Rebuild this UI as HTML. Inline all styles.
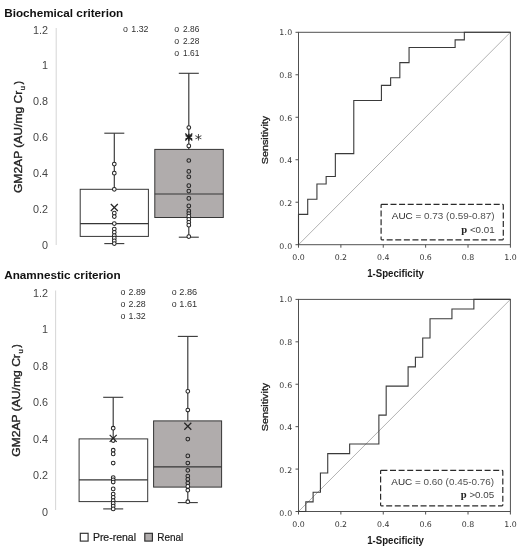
<!DOCTYPE html>
<html lang="en">
<head>
<meta charset="utf-8">
<title>GM2AP box plots and ROC curves</title>
<style>
html,body{margin:0;padding:0;background:#fff;}
body{width:522px;height:550px;overflow:hidden;}
svg{display:block;}
</style>
</head>
<body>
<svg width="522" height="550" viewBox="0 0 522 550">
<rect x="0" y="0" width="522" height="550" fill="#fff"/>
<text x="4.2" y="17" font-family='"Liberation Sans", sans-serif' font-size="11.4" font-weight="bold" fill="#111" text-anchor="start" textLength="119" lengthAdjust="spacingAndGlyphs">Biochemical criterion</text>
<line x1="56.2" y1="28" x2="56.2" y2="245" stroke="#d9d9d9" stroke-width="1.1"/>
<text x="48" y="33.8" font-family='"Liberation Sans", sans-serif' font-size="10.8" font-weight="normal" fill="#454545" text-anchor="end" textLength="15" lengthAdjust="spacingAndGlyphs">1.2</text>
<text x="48" y="69.4" font-family='"Liberation Sans", sans-serif' font-size="10.8" font-weight="normal" fill="#454545" text-anchor="end" textLength="6" lengthAdjust="spacingAndGlyphs">1</text>
<text x="48" y="105.3" font-family='"Liberation Sans", sans-serif' font-size="10.8" font-weight="normal" fill="#454545" text-anchor="end" textLength="15" lengthAdjust="spacingAndGlyphs">0.8</text>
<text x="48" y="141.2" font-family='"Liberation Sans", sans-serif' font-size="10.8" font-weight="normal" fill="#454545" text-anchor="end" textLength="15" lengthAdjust="spacingAndGlyphs">0.6</text>
<text x="48" y="176.8" font-family='"Liberation Sans", sans-serif' font-size="10.8" font-weight="normal" fill="#454545" text-anchor="end" textLength="15" lengthAdjust="spacingAndGlyphs">0.4</text>
<text x="48" y="213.3" font-family='"Liberation Sans", sans-serif' font-size="10.8" font-weight="normal" fill="#454545" text-anchor="end" textLength="15" lengthAdjust="spacingAndGlyphs">0.2</text>
<text x="48" y="249.4" font-family='"Liberation Sans", sans-serif' font-size="10.8" font-weight="normal" fill="#454545" text-anchor="end" textLength="6" lengthAdjust="spacingAndGlyphs">0</text>
<g transform="translate(21.8 193) rotate(-90)" font-family='"Liberation Sans", sans-serif' fill="#222" stroke="#222" stroke-width="0.35">
<text x="0" y="0" font-size="10.6" textLength="102.2" lengthAdjust="spacingAndGlyphs">GM2AP (AU/mg Cr</text>
<text x="102.8" y="2.9" font-size="7.6" stroke-width="0.25">u</text>
<text x="108.60000000000001" y="0" font-size="10.6">)</text>
</g>
<line x1="114.3" y1="133.2" x2="114.3" y2="243.6" stroke="#363636" stroke-width="1.15"/>
<line x1="104.3" y1="133.2" x2="124.3" y2="133.2" stroke="#363636" stroke-width="1.1"/>
<line x1="104.3" y1="243.6" x2="124.3" y2="243.6" stroke="#363636" stroke-width="1.1"/>
<rect x="80.2" y="189.3" width="68.2" height="47.1" fill="#fff" stroke="#363636" stroke-width="1"/>
<line x1="80.2" y1="223.6" x2="148.4" y2="223.6" stroke="#363636" stroke-width="1.2"/>
<circle cx="114.3" cy="164.1" r="1.85" fill="#fff" stroke="#262626" stroke-width="1.05"/>
<circle cx="114.3" cy="173.2" r="1.85" fill="#fff" stroke="#262626" stroke-width="1.05"/>
<circle cx="114.3" cy="189.3" r="1.85" fill="#fff" stroke="#262626" stroke-width="1.05"/>
<circle cx="114.3" cy="213.2" r="1.85" fill="#fff" stroke="#262626" stroke-width="1.05"/>
<circle cx="114.3" cy="216.6" r="1.85" fill="#fff" stroke="#262626" stroke-width="1.05"/>
<circle cx="114.3" cy="223.6" r="1.85" fill="#fff" stroke="#262626" stroke-width="1.05"/>
<circle cx="114.3" cy="229.1" r="1.85" fill="#fff" stroke="#262626" stroke-width="1.05"/>
<circle cx="114.3" cy="232.3" r="1.85" fill="#fff" stroke="#262626" stroke-width="1.05"/>
<circle cx="114.3" cy="235.5" r="1.85" fill="#fff" stroke="#262626" stroke-width="1.05"/>
<circle cx="114.3" cy="238.2" r="1.85" fill="#fff" stroke="#262626" stroke-width="1.05"/>
<circle cx="114.3" cy="240.9" r="1.85" fill="#fff" stroke="#262626" stroke-width="1.05"/>
<circle cx="114.3" cy="243.6" r="1.85" fill="#fff" stroke="#262626" stroke-width="1.05"/>
<line x1="110.8" y1="204" x2="117.8" y2="211" stroke="#262626" stroke-width="1.25"/>
<line x1="110.8" y1="211" x2="117.8" y2="204" stroke="#262626" stroke-width="1.25"/>
<line x1="188.8" y1="73.3" x2="188.8" y2="237.2" stroke="#363636" stroke-width="1.15"/>
<line x1="178.8" y1="73.3" x2="198.8" y2="73.3" stroke="#363636" stroke-width="1.1"/>
<line x1="178.8" y1="237.2" x2="198.8" y2="237.2" stroke="#363636" stroke-width="1.1"/>
<rect x="154.8" y="149.4" width="68.5" height="68.1" fill="#b0acac" stroke="#363636" stroke-width="1"/>
<line x1="154.8" y1="194" x2="223.3" y2="194" stroke="#363636" stroke-width="1.2"/>
<circle cx="188.8" cy="127.5" r="1.85" fill="#fff" stroke="#262626" stroke-width="1.05"/>
<circle cx="188.8" cy="145.9" r="1.85" fill="#fff" stroke="#262626" stroke-width="1.05"/>
<circle cx="188.8" cy="160.5" r="1.85" fill="#b0acac" stroke="#262626" stroke-width="1.05"/>
<circle cx="188.8" cy="171.4" r="1.85" fill="#b0acac" stroke="#262626" stroke-width="1.05"/>
<circle cx="188.8" cy="176.8" r="1.85" fill="#b0acac" stroke="#262626" stroke-width="1.05"/>
<circle cx="188.8" cy="185.7" r="1.85" fill="#b0acac" stroke="#262626" stroke-width="1.05"/>
<circle cx="188.8" cy="191.1" r="1.85" fill="#b0acac" stroke="#262626" stroke-width="1.05"/>
<circle cx="188.8" cy="198.4" r="1.85" fill="#b0acac" stroke="#262626" stroke-width="1.05"/>
<circle cx="188.8" cy="205.9" r="1.85" fill="#b0acac" stroke="#262626" stroke-width="1.05"/>
<circle cx="188.8" cy="210.9" r="1.85" fill="#b0acac" stroke="#262626" stroke-width="1.05"/>
<circle cx="188.8" cy="213.6" r="1.85" fill="#b0acac" stroke="#262626" stroke-width="1.05"/>
<circle cx="188.8" cy="216.4" r="1.85" fill="#fff" stroke="#262626" stroke-width="1.05"/>
<circle cx="188.8" cy="219.3" r="1.85" fill="#fff" stroke="#262626" stroke-width="1.05"/>
<circle cx="188.8" cy="222.3" r="1.85" fill="#fff" stroke="#262626" stroke-width="1.05"/>
<circle cx="188.8" cy="225.2" r="1.85" fill="#fff" stroke="#262626" stroke-width="1.05"/>
<circle cx="188.8" cy="236.6" r="1.85" fill="#fff" stroke="#262626" stroke-width="1.05"/>
<line x1="185.3" y1="133.5" x2="192.3" y2="140.5" stroke="#262626" stroke-width="1.25"/>
<line x1="185.3" y1="140.5" x2="192.3" y2="133.5" stroke="#262626" stroke-width="1.25"/>
<text x="125.4" y="32.3" font-family='"Liberation Sans", sans-serif' font-size="8.8" font-weight="normal" fill="#303030" text-anchor="middle">o</text>
<text x="131.3" y="32.3" font-family='"Liberation Sans", sans-serif' font-size="8.7" font-weight="normal" fill="#303030" text-anchor="start" textLength="17.2" lengthAdjust="spacingAndGlyphs">1.32</text>
<text x="176.7" y="31.8" font-family='"Liberation Sans", sans-serif' font-size="8.8" font-weight="normal" fill="#303030" text-anchor="middle">o</text>
<text x="183" y="31.8" font-family='"Liberation Sans", sans-serif' font-size="8.7" font-weight="normal" fill="#303030" text-anchor="start" textLength="16.3" lengthAdjust="spacingAndGlyphs">2.86</text>
<text x="176.7" y="43.5" font-family='"Liberation Sans", sans-serif' font-size="8.8" font-weight="normal" fill="#303030" text-anchor="middle">o</text>
<text x="183" y="43.5" font-family='"Liberation Sans", sans-serif' font-size="8.7" font-weight="normal" fill="#303030" text-anchor="start" textLength="16.3" lengthAdjust="spacingAndGlyphs">2.28</text>
<text x="176.7" y="55.8" font-family='"Liberation Sans", sans-serif' font-size="8.8" font-weight="normal" fill="#303030" text-anchor="middle">o</text>
<text x="183" y="55.8" font-family='"Liberation Sans", sans-serif' font-size="8.7" font-weight="normal" fill="#303030" text-anchor="start" textLength="16.3" lengthAdjust="spacingAndGlyphs">1.61</text>
<text x="198.4" y="143.6" font-family='"DejaVu Sans", "Liberation Sans", sans-serif' font-size="14.5" font-weight="normal" fill="#2a2a2a" text-anchor="middle">*</text>
<text x="188.8" y="143.6" font-family='"DejaVu Sans", "Liberation Sans", sans-serif' font-size="14.5" font-weight="normal" fill="#1a1a1a" text-anchor="middle" stroke="#1a1a1a" stroke-width="0.5">*</text>
<text x="4.2" y="279.4" font-family='"Liberation Sans", sans-serif' font-size="11.4" font-weight="bold" fill="#111" text-anchor="start" textLength="116.5" lengthAdjust="spacingAndGlyphs">Anamnestic criterion</text>
<line x1="55.6" y1="290.5" x2="55.6" y2="510" stroke="#d9d9d9" stroke-width="1.1"/>
<text x="48" y="296.7" font-family='"Liberation Sans", sans-serif' font-size="10.8" font-weight="normal" fill="#454545" text-anchor="end" textLength="15" lengthAdjust="spacingAndGlyphs">1.2</text>
<text x="48" y="333.1" font-family='"Liberation Sans", sans-serif' font-size="10.8" font-weight="normal" fill="#454545" text-anchor="end" textLength="6" lengthAdjust="spacingAndGlyphs">1</text>
<text x="48" y="369.7" font-family='"Liberation Sans", sans-serif' font-size="10.8" font-weight="normal" fill="#454545" text-anchor="end" textLength="15" lengthAdjust="spacingAndGlyphs">0.8</text>
<text x="48" y="406.3" font-family='"Liberation Sans", sans-serif' font-size="10.8" font-weight="normal" fill="#454545" text-anchor="end" textLength="15" lengthAdjust="spacingAndGlyphs">0.6</text>
<text x="48" y="442.9" font-family='"Liberation Sans", sans-serif' font-size="10.8" font-weight="normal" fill="#454545" text-anchor="end" textLength="15" lengthAdjust="spacingAndGlyphs">0.4</text>
<text x="48" y="479.3" font-family='"Liberation Sans", sans-serif' font-size="10.8" font-weight="normal" fill="#454545" text-anchor="end" textLength="15" lengthAdjust="spacingAndGlyphs">0.2</text>
<text x="48" y="515.6" font-family='"Liberation Sans", sans-serif' font-size="10.8" font-weight="normal" fill="#454545" text-anchor="end" textLength="6" lengthAdjust="spacingAndGlyphs">0</text>
<g transform="translate(19.8 456.7) rotate(-90)" font-family='"Liberation Sans", sans-serif' fill="#222" stroke="#222" stroke-width="0.35">
<text x="0" y="0" font-size="10.6" textLength="102.6" lengthAdjust="spacingAndGlyphs">GM2AP (AU/mg Cr</text>
<text x="103.19999999999999" y="2.9" font-size="7.6" stroke-width="0.25">u</text>
<text x="109.0" y="0" font-size="10.6">)</text>
</g>
<line x1="113.2" y1="397.3" x2="113.2" y2="508.9" stroke="#363636" stroke-width="1.15"/>
<line x1="103.2" y1="397.3" x2="123.2" y2="397.3" stroke="#363636" stroke-width="1.1"/>
<line x1="103.2" y1="508.9" x2="123.2" y2="508.9" stroke="#363636" stroke-width="1.1"/>
<rect x="79.1" y="438.9" width="68.6" height="62.7" fill="#fff" stroke="#363636" stroke-width="1"/>
<line x1="79.1" y1="479.8" x2="147.7" y2="479.8" stroke="#363636" stroke-width="1.2"/>
<circle cx="113.2" cy="428.2" r="1.85" fill="#fff" stroke="#262626" stroke-width="1.05"/>
<circle cx="113.2" cy="440.5" r="1.85" fill="#fff" stroke="#262626" stroke-width="1.05"/>
<circle cx="113.2" cy="450.2" r="1.85" fill="#fff" stroke="#262626" stroke-width="1.05"/>
<circle cx="113.2" cy="453.9" r="1.85" fill="#fff" stroke="#262626" stroke-width="1.05"/>
<circle cx="113.2" cy="463" r="1.85" fill="#fff" stroke="#262626" stroke-width="1.05"/>
<circle cx="113.2" cy="477.5" r="1.85" fill="#fff" stroke="#262626" stroke-width="1.05"/>
<circle cx="113.2" cy="479.8" r="1.85" fill="#fff" stroke="#262626" stroke-width="1.05"/>
<circle cx="113.2" cy="482" r="1.85" fill="#fff" stroke="#262626" stroke-width="1.05"/>
<circle cx="113.2" cy="488.9" r="1.85" fill="#fff" stroke="#262626" stroke-width="1.05"/>
<circle cx="113.2" cy="494.1" r="1.85" fill="#fff" stroke="#262626" stroke-width="1.05"/>
<circle cx="113.2" cy="497.3" r="1.85" fill="#fff" stroke="#262626" stroke-width="1.05"/>
<circle cx="113.2" cy="500.5" r="1.85" fill="#fff" stroke="#262626" stroke-width="1.05"/>
<circle cx="113.2" cy="503.4" r="1.85" fill="#fff" stroke="#262626" stroke-width="1.05"/>
<circle cx="113.2" cy="506.1" r="1.85" fill="#fff" stroke="#262626" stroke-width="1.05"/>
<circle cx="113.2" cy="508.9" r="1.85" fill="#fff" stroke="#262626" stroke-width="1.05"/>
<line x1="109.7" y1="434.9" x2="116.7" y2="441.9" stroke="#262626" stroke-width="1.25"/>
<line x1="109.7" y1="441.9" x2="116.7" y2="434.9" stroke="#262626" stroke-width="1.25"/>
<line x1="187.8" y1="336.4" x2="187.8" y2="502.6" stroke="#363636" stroke-width="1.15"/>
<line x1="177.8" y1="336.4" x2="197.8" y2="336.4" stroke="#363636" stroke-width="1.1"/>
<line x1="177.8" y1="502.6" x2="197.8" y2="502.6" stroke="#363636" stroke-width="1.1"/>
<rect x="153.6" y="420.9" width="68" height="66.2" fill="#b0acac" stroke="#363636" stroke-width="1"/>
<line x1="153.6" y1="466.8" x2="221.6" y2="466.8" stroke="#363636" stroke-width="1.2"/>
<circle cx="187.8" cy="391.3" r="1.85" fill="#fff" stroke="#262626" stroke-width="1.05"/>
<circle cx="187.8" cy="410" r="1.85" fill="#fff" stroke="#262626" stroke-width="1.05"/>
<circle cx="187.8" cy="439.1" r="1.85" fill="#b0acac" stroke="#262626" stroke-width="1.05"/>
<circle cx="187.8" cy="455.9" r="1.85" fill="#b0acac" stroke="#262626" stroke-width="1.05"/>
<circle cx="187.8" cy="463" r="1.85" fill="#b0acac" stroke="#262626" stroke-width="1.05"/>
<circle cx="187.8" cy="470.3" r="1.85" fill="#b0acac" stroke="#262626" stroke-width="1.05"/>
<circle cx="187.8" cy="476" r="1.85" fill="#b0acac" stroke="#262626" stroke-width="1.05"/>
<circle cx="187.8" cy="479.3" r="1.85" fill="#b0acac" stroke="#262626" stroke-width="1.05"/>
<circle cx="187.8" cy="483.1" r="1.85" fill="#b0acac" stroke="#262626" stroke-width="1.05"/>
<circle cx="187.8" cy="486.4" r="1.85" fill="#fff" stroke="#262626" stroke-width="1.05"/>
<circle cx="187.8" cy="490.2" r="1.85" fill="#fff" stroke="#262626" stroke-width="1.05"/>
<circle cx="187.8" cy="501.7" r="1.85" fill="#fff" stroke="#262626" stroke-width="1.05"/>
<line x1="184.3" y1="422.8" x2="191.3" y2="429.8" stroke="#262626" stroke-width="1.25"/>
<line x1="184.3" y1="429.8" x2="191.3" y2="422.8" stroke="#262626" stroke-width="1.25"/>
<text x="123" y="295" font-family='"Liberation Sans", sans-serif' font-size="8.8" font-weight="normal" fill="#303030" text-anchor="middle">o</text>
<text x="128.6" y="295" font-family='"Liberation Sans", sans-serif' font-size="8.7" font-weight="normal" fill="#303030" text-anchor="start" textLength="17.2" lengthAdjust="spacingAndGlyphs">2.89</text>
<text x="123" y="307" font-family='"Liberation Sans", sans-serif' font-size="8.8" font-weight="normal" fill="#303030" text-anchor="middle">o</text>
<text x="128.6" y="307" font-family='"Liberation Sans", sans-serif' font-size="8.7" font-weight="normal" fill="#303030" text-anchor="start" textLength="17.2" lengthAdjust="spacingAndGlyphs">2.28</text>
<text x="123" y="319.3" font-family='"Liberation Sans", sans-serif' font-size="8.8" font-weight="normal" fill="#303030" text-anchor="middle">o</text>
<text x="128.6" y="319.3" font-family='"Liberation Sans", sans-serif' font-size="8.7" font-weight="normal" fill="#303030" text-anchor="start" textLength="17.2" lengthAdjust="spacingAndGlyphs">1.32</text>
<text x="174.2" y="295" font-family='"Liberation Sans", sans-serif' font-size="8.8" font-weight="normal" fill="#303030" text-anchor="middle">o</text>
<text x="179.3" y="295" font-family='"Liberation Sans", sans-serif' font-size="8.7" font-weight="normal" fill="#303030" text-anchor="start" textLength="17.9" lengthAdjust="spacingAndGlyphs">2.86</text>
<text x="174.2" y="307" font-family='"Liberation Sans", sans-serif' font-size="8.8" font-weight="normal" fill="#303030" text-anchor="middle">o</text>
<text x="179.3" y="307" font-family='"Liberation Sans", sans-serif' font-size="8.7" font-weight="normal" fill="#303030" text-anchor="start" textLength="17.9" lengthAdjust="spacingAndGlyphs">1.61</text>
<rect x="80.3" y="533.3" width="7.8" height="7.8" fill="#fff" stroke="#2e2e2e" stroke-width="1.15"/>
<text x="92.9" y="541.2" font-family='"Liberation Sans", sans-serif' font-size="10.8" font-weight="normal" fill="#1a1a1a" text-anchor="start" textLength="43.1" lengthAdjust="spacingAndGlyphs" stroke="#1a1a1a" stroke-width="0.2">Pre-renal</text>
<rect x="144.8" y="533.3" width="7.6" height="7.8" fill="#b0acac" stroke="#2e2e2e" stroke-width="1.15"/>
<text x="157.2" y="541.2" font-family='"Liberation Sans", sans-serif' font-size="10.8" font-weight="normal" fill="#1a1a1a" text-anchor="start" textLength="26.1" lengthAdjust="spacingAndGlyphs" stroke="#1a1a1a" stroke-width="0.2">Renal</text>
<line x1="298.5" y1="244.7" x2="510.4" y2="32.3" stroke="#b2b2b2" stroke-width="1"/>
<rect x="298.5" y="32.3" width="211.9" height="212.4" fill="none" stroke="#505050" stroke-width="1"/>
<line x1="295.5" y1="244.7" x2="298.5" y2="244.7" stroke="#505050" stroke-width="1"/>
<text x="292.1" y="248.8" font-family='"DejaVu Sans", "Liberation Sans", sans-serif' font-size="7.8" font-weight="normal" fill="#333" text-anchor="end" textLength="12.8" lengthAdjust="spacing">0.0</text>
<line x1="298.5" y1="244.7" x2="298.5" y2="247.7" stroke="#505050" stroke-width="1"/>
<text x="298.5" y="260.2" font-family='"DejaVu Sans", "Liberation Sans", sans-serif' font-size="7.8" font-weight="normal" fill="#333" text-anchor="middle" textLength="12.4" lengthAdjust="spacing">0.0</text>
<line x1="295.5" y1="202.22" x2="298.5" y2="202.22" stroke="#505050" stroke-width="1"/>
<text x="292.1" y="206.06" font-family='"DejaVu Sans", "Liberation Sans", sans-serif' font-size="7.8" font-weight="normal" fill="#333" text-anchor="end" textLength="12.8" lengthAdjust="spacing">0.2</text>
<line x1="340.88" y1="244.7" x2="340.88" y2="247.7" stroke="#505050" stroke-width="1"/>
<text x="340.88" y="260.2" font-family='"DejaVu Sans", "Liberation Sans", sans-serif' font-size="7.8" font-weight="normal" fill="#333" text-anchor="middle" textLength="12.4" lengthAdjust="spacing">0.2</text>
<line x1="295.5" y1="159.74" x2="298.5" y2="159.74" stroke="#505050" stroke-width="1"/>
<text x="292.1" y="163.32" font-family='"DejaVu Sans", "Liberation Sans", sans-serif' font-size="7.8" font-weight="normal" fill="#333" text-anchor="end" textLength="12.8" lengthAdjust="spacing">0.4</text>
<line x1="383.26" y1="244.7" x2="383.26" y2="247.7" stroke="#505050" stroke-width="1"/>
<text x="383.26" y="260.2" font-family='"DejaVu Sans", "Liberation Sans", sans-serif' font-size="7.8" font-weight="normal" fill="#333" text-anchor="middle" textLength="12.4" lengthAdjust="spacing">0.4</text>
<line x1="295.5" y1="117.26" x2="298.5" y2="117.26" stroke="#505050" stroke-width="1"/>
<text x="292.1" y="120.58" font-family='"DejaVu Sans", "Liberation Sans", sans-serif' font-size="7.8" font-weight="normal" fill="#333" text-anchor="end" textLength="12.8" lengthAdjust="spacing">0.6</text>
<line x1="425.64" y1="244.7" x2="425.64" y2="247.7" stroke="#505050" stroke-width="1"/>
<text x="425.64" y="260.2" font-family='"DejaVu Sans", "Liberation Sans", sans-serif' font-size="7.8" font-weight="normal" fill="#333" text-anchor="middle" textLength="12.4" lengthAdjust="spacing">0.6</text>
<line x1="295.5" y1="74.78" x2="298.5" y2="74.78" stroke="#505050" stroke-width="1"/>
<text x="292.1" y="77.84" font-family='"DejaVu Sans", "Liberation Sans", sans-serif' font-size="7.8" font-weight="normal" fill="#333" text-anchor="end" textLength="12.8" lengthAdjust="spacing">0.8</text>
<line x1="468.02" y1="244.7" x2="468.02" y2="247.7" stroke="#505050" stroke-width="1"/>
<text x="468.02" y="260.2" font-family='"DejaVu Sans", "Liberation Sans", sans-serif' font-size="7.8" font-weight="normal" fill="#333" text-anchor="middle" textLength="12.4" lengthAdjust="spacing">0.8</text>
<line x1="295.5" y1="32.3" x2="298.5" y2="32.3" stroke="#505050" stroke-width="1"/>
<text x="292.1" y="35.1" font-family='"DejaVu Sans", "Liberation Sans", sans-serif' font-size="7.8" font-weight="normal" fill="#333" text-anchor="end" textLength="12.8" lengthAdjust="spacing">1.0</text>
<line x1="510.4" y1="244.7" x2="510.4" y2="247.7" stroke="#505050" stroke-width="1"/>
<text x="510.4" y="260.2" font-family='"DejaVu Sans", "Liberation Sans", sans-serif' font-size="7.8" font-weight="normal" fill="#333" text-anchor="middle" textLength="12.4" lengthAdjust="spacing">1.0</text>
<path d="M298.5 244.7 L298.5 214.36 L307.71 214.36 L307.71 199.19 L316.93 199.19 L316.93 184.01 L326.14 184.01 L326.14 176.43 L335.35 176.43 L335.35 153.67 L353.78 153.67 L353.78 100.57 L381.42 100.57 L381.42 85.4 L390.63 85.4 L390.63 77.81 L399.84 77.81 L399.84 62.64 L409.06 62.64 L409.06 47.47 L455.12 47.47 L455.12 39.89 L464.33 39.89 L464.33 32.3 L510.4 32.3" fill="none" stroke="#3a3a3a" stroke-width="1.1" stroke-linejoin="miter"/>
<text x="367.2" y="276.9" font-family='"Liberation Sans", sans-serif' font-size="10.8" font-weight="bold" fill="#1a1a1a" text-anchor="start" textLength="56.8" lengthAdjust="spacingAndGlyphs">1-Specificity</text>
<g transform="translate(268.2 164.2) rotate(-90)">
<text x="0" y="0" font-family='"Liberation Sans", sans-serif' font-size="9.6" fill="#222" stroke="#222" stroke-width="0.3" textLength="48.4" lengthAdjust="spacingAndGlyphs">Sensitivity</text>
</g>
<rect x="381.1" y="204.4" width="122.2" height="35.5" rx="0.8" fill="#fff" stroke="#2a2a2a" stroke-width="1.2" stroke-dasharray="6 2.6"/>
<text x="391.8" y="219.2" font-family='"Liberation Sans", sans-serif' font-size="9.6" font-weight="normal" fill="#505050" text-anchor="start" textLength="102.8" lengthAdjust="spacingAndGlyphs"><tspan fill="#2a2a2a">AUC =</tspan> 0.73 (0.59-0.87)</text>
<text x="494.7" y="232.8" font-size="9.8" fill="#444" text-anchor="end" font-family='"Liberation Sans", sans-serif'><tspan font-family='"Liberation Serif", serif' font-weight="bold" fill="#222" font-size="10.6">p</tspan> &lt;0.01</text>
<line x1="298.5" y1="511.5" x2="510.4" y2="299.4" stroke="#b2b2b2" stroke-width="1"/>
<rect x="298.5" y="299.4" width="211.9" height="212.1" fill="none" stroke="#505050" stroke-width="1"/>
<line x1="295.5" y1="511.5" x2="298.5" y2="511.5" stroke="#505050" stroke-width="1"/>
<text x="292.1" y="515.6" font-family='"DejaVu Sans", "Liberation Sans", sans-serif' font-size="7.8" font-weight="normal" fill="#333" text-anchor="end" textLength="12.8" lengthAdjust="spacing">0.0</text>
<line x1="298.5" y1="511.5" x2="298.5" y2="514.5" stroke="#505050" stroke-width="1"/>
<text x="298.5" y="527" font-family='"DejaVu Sans", "Liberation Sans", sans-serif' font-size="7.8" font-weight="normal" fill="#333" text-anchor="middle" textLength="12.4" lengthAdjust="spacing">0.0</text>
<line x1="295.5" y1="469.08" x2="298.5" y2="469.08" stroke="#505050" stroke-width="1"/>
<text x="292.1" y="472.92" font-family='"DejaVu Sans", "Liberation Sans", sans-serif' font-size="7.8" font-weight="normal" fill="#333" text-anchor="end" textLength="12.8" lengthAdjust="spacing">0.2</text>
<line x1="340.88" y1="511.5" x2="340.88" y2="514.5" stroke="#505050" stroke-width="1"/>
<text x="340.88" y="527" font-family='"DejaVu Sans", "Liberation Sans", sans-serif' font-size="7.8" font-weight="normal" fill="#333" text-anchor="middle" textLength="12.4" lengthAdjust="spacing">0.2</text>
<line x1="295.5" y1="426.66" x2="298.5" y2="426.66" stroke="#505050" stroke-width="1"/>
<text x="292.1" y="430.24" font-family='"DejaVu Sans", "Liberation Sans", sans-serif' font-size="7.8" font-weight="normal" fill="#333" text-anchor="end" textLength="12.8" lengthAdjust="spacing">0.4</text>
<line x1="383.26" y1="511.5" x2="383.26" y2="514.5" stroke="#505050" stroke-width="1"/>
<text x="383.26" y="527" font-family='"DejaVu Sans", "Liberation Sans", sans-serif' font-size="7.8" font-weight="normal" fill="#333" text-anchor="middle" textLength="12.4" lengthAdjust="spacing">0.4</text>
<line x1="295.5" y1="384.24" x2="298.5" y2="384.24" stroke="#505050" stroke-width="1"/>
<text x="292.1" y="387.56" font-family='"DejaVu Sans", "Liberation Sans", sans-serif' font-size="7.8" font-weight="normal" fill="#333" text-anchor="end" textLength="12.8" lengthAdjust="spacing">0.6</text>
<line x1="425.64" y1="511.5" x2="425.64" y2="514.5" stroke="#505050" stroke-width="1"/>
<text x="425.64" y="527" font-family='"DejaVu Sans", "Liberation Sans", sans-serif' font-size="7.8" font-weight="normal" fill="#333" text-anchor="middle" textLength="12.4" lengthAdjust="spacing">0.6</text>
<line x1="295.5" y1="341.82" x2="298.5" y2="341.82" stroke="#505050" stroke-width="1"/>
<text x="292.1" y="344.88" font-family='"DejaVu Sans", "Liberation Sans", sans-serif' font-size="7.8" font-weight="normal" fill="#333" text-anchor="end" textLength="12.8" lengthAdjust="spacing">0.8</text>
<line x1="468.02" y1="511.5" x2="468.02" y2="514.5" stroke="#505050" stroke-width="1"/>
<text x="468.02" y="527" font-family='"DejaVu Sans", "Liberation Sans", sans-serif' font-size="7.8" font-weight="normal" fill="#333" text-anchor="middle" textLength="12.4" lengthAdjust="spacing">0.8</text>
<line x1="295.5" y1="299.4" x2="298.5" y2="299.4" stroke="#505050" stroke-width="1"/>
<text x="292.1" y="302.2" font-family='"DejaVu Sans", "Liberation Sans", sans-serif' font-size="7.8" font-weight="normal" fill="#333" text-anchor="end" textLength="12.8" lengthAdjust="spacing">1.0</text>
<line x1="510.4" y1="511.5" x2="510.4" y2="514.5" stroke="#505050" stroke-width="1"/>
<text x="510.4" y="527" font-family='"DejaVu Sans", "Liberation Sans", sans-serif' font-size="7.8" font-weight="normal" fill="#333" text-anchor="middle" textLength="12.4" lengthAdjust="spacing">1.0</text>
<path d="M298.5 511.5 L305.81 511.5 L305.81 501.86 L313.11 501.86 L313.11 492.22 L320.42 492.22 L320.42 472.94 L327.73 472.94 L327.73 453.65 L349.65 453.65 L349.65 444.01 L378.88 444.01 L378.88 415.09 L386.18 415.09 L386.18 386.17 L408.1 386.17 L408.1 366.89 L415.41 366.89 L415.41 357.25 L422.72 357.25 L422.72 337.96 L430.02 337.96 L430.02 318.68 L451.94 318.68 L451.94 309.04 L473.87 309.04 L473.87 299.4 L510.4 299.4" fill="none" stroke="#3a3a3a" stroke-width="1.1" stroke-linejoin="miter"/>
<text x="367.2" y="543.7" font-family='"Liberation Sans", sans-serif' font-size="10.8" font-weight="bold" fill="#1a1a1a" text-anchor="start" textLength="56.8" lengthAdjust="spacingAndGlyphs">1-Specificity</text>
<g transform="translate(268.2 431.15) rotate(-90)">
<text x="0" y="0" font-family='"Liberation Sans", sans-serif' font-size="9.6" fill="#222" stroke="#222" stroke-width="0.3" textLength="48.4" lengthAdjust="spacingAndGlyphs">Sensitivity</text>
</g>
<rect x="380.6" y="470.4" width="122.2" height="35.5" rx="0.8" fill="#fff" stroke="#2a2a2a" stroke-width="1.2" stroke-dasharray="6 2.6"/>
<text x="391.3" y="484.7" font-family='"Liberation Sans", sans-serif' font-size="9.6" font-weight="normal" fill="#505050" text-anchor="start" textLength="102.8" lengthAdjust="spacingAndGlyphs"><tspan fill="#2a2a2a">AUC =</tspan> 0.60 (0.45-0.76)</text>
<text x="494.2" y="498.3" font-size="9.8" fill="#444" text-anchor="end" font-family='"Liberation Sans", sans-serif'><tspan font-family='"Liberation Serif", serif' font-weight="bold" fill="#222" font-size="10.6">p</tspan> &gt;0.05</text>
</svg>
</body>
</html>
